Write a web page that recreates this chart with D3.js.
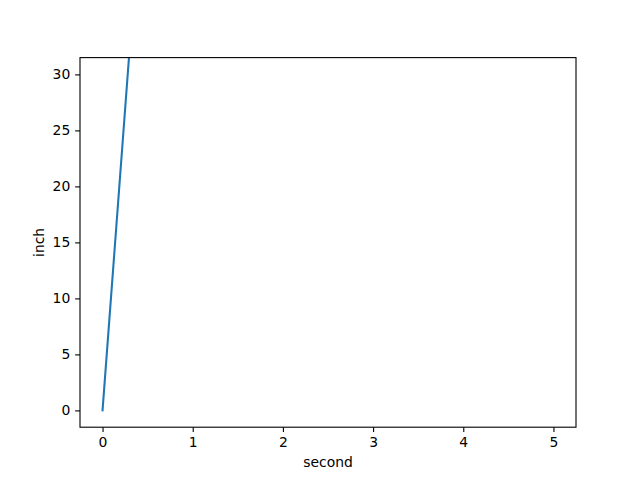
<!DOCTYPE html>
<html><head><meta charset="utf-8">
<script src="https://cdn.jsdelivr.net/npm/d3@7"></script>
<style>body{margin:0;background:#fff}svg{display:block}</style>
</head><body>
<script>
const xValues = [0, 5];
const yValues = [0, 537.5];
const xTicks = [0, 1, 2, 3, 4, 5];
const yTicks = [0, 5, 10, 15, 20, 25, 30];
const xLabel = "second";
const yLabel = "inch";

const W = 640, H = 480;
const m = {left: 80, right: 64, top: 57.6, bottom: 52.8};
const svg = d3.select("body").append("svg").attr("width", W).attr("height", H)
  .style("font-family", "DejaVu Sans, sans-serif");
const iw = W - m.left - m.right, ih = H - m.top - m.bottom;
const x = d3.scaleLinear().domain([-0.25, 5.25]).range([m.left, m.left + iw]);
const y = d3.scaleLinear().domain([-1.5, 31.5]).range([m.top + ih, m.top]);

svg.append("defs").append("clipPath").attr("id", "clip")
  .append("rect").attr("x", m.left).attr("y", m.top).attr("width", iw).attr("height", ih);

const pts = xValues.map((v, i) => [v, yValues[i]]);
svg.append("path").datum(pts)
  .attr("clip-path", "url(#clip)")
  .attr("fill", "none").attr("stroke", "#1f77b4").attr("stroke-width", 2.08)
  .attr("stroke-linecap", "square")
  .attr("d", d3.line().x(d => x(d[0])).y(d => y(d[1])));

const xa = svg.append("g").attr("transform", `translate(0,${m.top + ih})`)
  .call(d3.axisBottom(x).tickValues(xTicks).tickFormat(d3.format("d")).tickSizeOuter(0).tickSize(4.86).tickPadding(4.86));
const ya = svg.append("g").attr("transform", `translate(${m.left},0)`)
  .call(d3.axisLeft(y).tickValues(yTicks).tickFormat(d3.format("d")).tickSizeOuter(0).tickSize(4.86).tickPadding(4.86));
[xa, ya].forEach(a => {
  a.select(".domain").remove();
  a.selectAll("line").attr("stroke", "#000").attr("stroke-width", 1.1);
  a.selectAll("text").attr("font-size", "13.9px").attr("fill", "#000").attr("font-family", "DejaVu Sans, sans-serif");
});

svg.append("rect").attr("x", m.left).attr("y", m.top).attr("width", iw).attr("height", ih)
  .attr("fill", "none").attr("stroke", "#000").attr("stroke-width", 1.1);

svg.append("text").attr("x", m.left + iw / 2).attr("y", 467)
  .attr("text-anchor", "middle").attr("font-size", "13.9px").text(xLabel);
svg.append("text").attr("transform", `translate(44,${m.top + ih / 2}) rotate(-90)`)
  .attr("text-anchor", "middle").attr("font-size", "13.9px").text(yLabel);
</script>
</body></html>
